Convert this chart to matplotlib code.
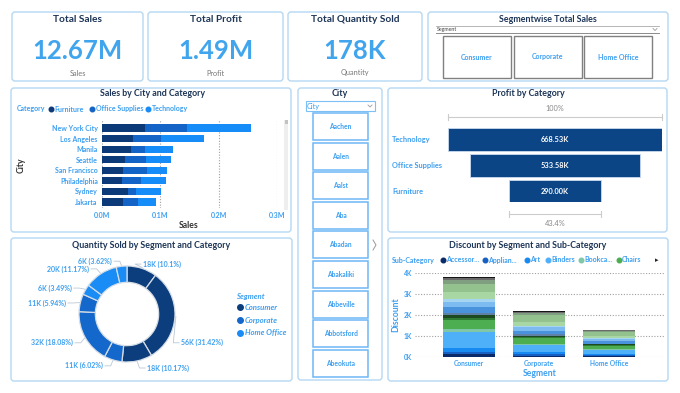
import numpy as np
import matplotlib.pyplot as plt
from matplotlib.patches import FancyBboxPatch, Rectangle
import matplotlib.transforms as mtransforms

plt.rcParams['font.family'] = ['Lato', 'DejaVu Sans']

# ---- data ----
kpi_titles = ['Total Sales', 'Total Profit', 'Total Quantity Sold']
kpi_values = ['12.67M', '1.49M', '178K']
kpi_subs = ['Sales', 'Profit', 'Quantity']

segments = ['Consumer', 'Corporate', 'Home Office']

cities = ['New York City', 'Los Angeles', 'Manila', 'Seattle', 'San Francisco',
          'Philadelphia', 'Sydney', 'Jakarta']
sales_furniture = [0.074, 0.053, 0.049, 0.040, 0.036, 0.035, 0.045, 0.036]
sales_office = [0.072, 0.048, 0.024, 0.036, 0.041, 0.031, 0.014, 0.025]
sales_tech = [0.109, 0.074, 0.048, 0.043, 0.035, 0.043, 0.042, 0.032]

slicer_cities = ['Aachen', 'Aalen', 'Aalst', 'Aba', 'Abadan', 'Abakaliki',
                 'Abbeville', 'Abbotsford', 'Abeokuta']

profit_cats = ['Technology', 'Office Supplies', 'Furniture']
profit_vals = [668.53, 533.58, 290.00]

qty_labels = ['18K', '56K', '18K', '11K', '32K', '11K', '6K', '20K', '6K']
qty_pcts = [10.10, 31.42, 10.17, 6.02, 18.08, 5.94, 3.49, 11.17, 3.62]
qty_segment = [0, 0, 0, 1, 1, 1, 2, 2, 2]

subcats = ['Accessories', 'Appliances', 'Art', 'Binders', 'Bookcases', 'Chairs',
           'Copiers', 'Envelopes', 'Fasteners', 'Furnishings', 'Labels',
           'Machines', 'Paper', 'Phones', 'Storage', 'Supplies', 'Tables']
disc_consumer = [0.12, 0.10, 0.22, 0.75, 0.12, 0.45, 0.10, 0.12, 0.10, 0.30,
                 0.25, 0.15, 0.30, 0.40, 0.20, 0.08, 0.04]
disc_corporate = [0.07, 0.06, 0.13, 0.30, 0.07, 0.26, 0.06, 0.07, 0.06, 0.18,
                  0.15, 0.09, 0.18, 0.31, 0.12, 0.05, 0.04]
disc_home = [0.04, 0.04, 0.08, 0.17, 0.04, 0.15, 0.04, 0.04, 0.04, 0.11,
             0.09, 0.05, 0.11, 0.17, 0.07, 0.03, 0.03]

# ---- styles ----
W, H = 680, 393
BORDER = '#b5d8f3'
NAVY = '#1d3557'
LBLUE = '#3d9ff0'
TITLE_FS = 6.4
SMALL_FS = 5.0
seg_colors = ['#0c3d7c', '#1468cc', '#1a8cf5']
cat_colors = ['#0c3a78', '#1464c8', '#168cf8']
sub_colors = ['#0a2a6a', '#1560c2', '#178af2', '#4fb0fa', '#7fc7a6', '#4cae50',
              '#2f7a34', '#1d4a20', '#5f81a6', '#4a92dc', '#7dbaf0', '#a6d5f2',
              '#a9d7a4', '#93c28f', '#7f9f80', '#6a6a6a', '#151515']

fig = plt.figure(figsize=(W / 100, H / 100), dpi=100)
bg = fig.add_axes([0, 0, 1, 1])
bg.set_xlim(0, W)
bg.set_ylim(H, 0)
bg.axis('off')


def px_axes(x0, y0, x1, y1):
    return fig.add_axes([x0 / W, 1 - y1 / H, (x1 - x0) / W, (y1 - y0) / H])


def panel(x0, y0, x1, y1):
    bg.add_patch(FancyBboxPatch((x0, y0), x1 - x0, y1 - y0,
                                boxstyle='round,pad=0,rounding_size=3',
                                fc='white', ec=BORDER, lw=1))


def chevron(x, y, s=2.5, color='#999999'):
    bg.plot([x - s, x, x + s], [y - s / 2, y + s / 2, y - s / 2], color=color, lw=0.6)


# ---- KPI cards ----
card_x = [(12, 143), (148, 283), (288, 422)]
for (x0, x1), t, v, s in zip(card_x, kpi_titles, kpi_values, kpi_subs):
    panel(x0, 12, x1, 81)
    xc = (x0 + x1) / 2
    bg.text(xc, 20, t, ha='center', va='center', fontsize=7.3, fontweight='bold', color=NAVY)
    bg.text(xc, 51, v, ha='center', va='center', fontsize=18.5, fontweight='bold', color='#41a5ee')
    bg.text(xc, 73, s, ha='center', va='center', fontsize=5.3, color='#777777')

# ---- Segment slicer ----
panel(428, 12, 668, 81)
bg.text(548, 19, 'Segmentwise Total Sales', ha='center', va='center', fontsize=TITLE_FS,
        fontweight='bold', color=NAVY)
bg.plot([436, 659], [26, 26], color='#aaaaaa', lw=0.6)
bg.plot([436, 659], [33, 33], color='#777777', lw=0.6)
bg.text(437, 29.5, 'Segment', ha='left', va='center', fontsize=3.8, color='#444444')
chevron(655, 29.5, 2)
seg_btn_x = [443, 514, 584]
for bx, name in zip(seg_btn_x, segments):
    bg.add_patch(Rectangle((bx, 36), 68, 42, fc='white', ec='#808080', lw=1))
    bg.text(bx + 34, 57, name, ha='center', va='center', fontsize=5,
            fontweight='bold', color=LBLUE)

# ---- Sales by City and Category ----
panel(11, 88, 291, 232)
bg.text(153, 94, 'Sales by City and Category', ha='center', va='center', fontsize=TITLE_FS,
        fontweight='bold', color=NAVY)
bg.text(17, 109, 'Category', ha='left', va='center', fontsize=SMALL_FS, fontweight='bold', color=LBLUE)
leg_x = [51, 92, 148]
for lx, name, c in zip(leg_x, ['Furniture', 'Office Supplies', 'Technology'], cat_colors):
    bg.plot(lx, 109, 'o', ms=3.3, color=c)
    bg.text(lx + 3.5, 109, name, ha='left', va='center', fontsize=SMALL_FS, fontweight='bold', color=LBLUE)
bg.add_patch(Rectangle((284, 120), 4, 90, fc='#eeeeee', ec='none'))
bg.add_patch(Rectangle((284.5, 120), 3, 4, fc='#c2c2c2', ec='none'))

ax1 = px_axes(102, 120, 277, 208)
y = np.arange(len(cities))
f = np.array(sales_furniture)
o = np.array(sales_office)
t = np.array(sales_tech)
ax1.barh(y, f, height=0.68, color=cat_colors[0], zorder=3)
ax1.barh(y, o, left=f, height=0.68, color=cat_colors[1], zorder=3)
ax1.barh(y, t, left=f + o, height=0.68, color=cat_colors[2], zorder=3)
ax1.set_xlim(0, 0.3)
ax1.set_ylim(len(cities) - 1 + 0.57, -0.76)
ax1.set_xticks([0, 0.1, 0.2, 0.3])
ax1.set_xticklabels(['0.0M', '0.1M', '0.2M', '0.3M'])
ax1.set_yticks(y)
ax1.set_yticklabels(cities)
ax1.tick_params(length=0, labelsize=5.0, labelcolor=LBLUE, pad=3)
for lab in ax1.get_xticklabels() + ax1.get_yticklabels():
    lab.set_fontweight('bold')
ax1.grid(axis='x', linestyle=(0, (1, 1.5)), color='#a0a0a0', lw=0.8, zorder=0)
for s in ax1.spines.values():
    s.set_visible(False)
ax1.set_facecolor('none')
bg.text(189, 226, 'Sales', ha='center', va='center', fontsize=6.2, fontweight='bold', color='#333333')
bg.text(21, 165, 'City', ha='center', va='center', rotation=90, fontsize=6.2,
        fontweight='bold', color='#333333')

# ---- City slicer ----
panel(298, 88, 382, 380)
bg.text(340, 94, 'City', ha='center', va='center', fontsize=TITLE_FS, fontweight='bold', color=NAVY)
bg.add_patch(Rectangle((306, 101), 69, 10, fc='white', ec='#7cc0f5', lw=0.8))
bg.text(307, 106, 'City', ha='left', va='center', fontsize=5.3, color=LBLUE)
chevron(370, 106, 2)
for i, name in enumerate(slicer_cities):
    by = 113 + i * 29.6
    bg.add_patch(Rectangle((313, by), 55, 27, fc='white', ec='#6db8f7', lw=1.1))
    bg.text(340.5, by + 13.5, name, ha='center', va='center', fontsize=4.8,
            fontweight='bold', color=LBLUE)
bg.plot([373, 376, 373], [240, 245, 250], color='#999999', lw=0.7)

# ---- Profit by Category (funnel) ----
panel(388, 88, 667, 232)
bg.text(528, 94, 'Profit by Category', ha='center', va='center', fontsize=TITLE_FS,
        fontweight='bold', color=NAVY)
ax2 = px_axes(448, 128, 662, 202)
pv = np.array(profit_vals)
half = pv.max() / 2
ax2.barh(np.arange(3), pv, left=-pv / 2, height=0.88, color='#0b4585',
         edgecolor='#c9daf0', lw=0.6)
ax2.set_xlim(-half, half)
ax2.set_ylim(2.427, -0.447)
ax2.axis('off')
for i, v in enumerate(pv):
    ax2.text(0, i, f'{v:.2f}K', ha='center', va='center', fontsize=5.3,
             fontweight='bold', color='white')
lab_tr = mtransforms.blended_transform_factory(bg.transData, ax2.transData)
for i, name in enumerate(profit_cats):
    ax2.text(392, i, name, transform=lab_tr, ha='left', va='center', fontsize=5.3,
             fontweight='bold', color=LBLUE)
top_y, bot_y = -0.874, 2.89
ax2.plot([-half, half], [top_y, top_y], color='#cccccc', lw=0.8, clip_on=False)
ax2.plot([-half, -half], [top_y - 0.12, top_y + 0.12], color='#cccccc', lw=0.8, clip_on=False)
ax2.plot([half, half], [top_y - 0.12, top_y + 0.12], color='#cccccc', lw=0.8, clip_on=False)
lo = pv[-1] / 2
ax2.plot([-lo, lo], [bot_y, bot_y], color='#cccccc', lw=0.8, clip_on=False)
ax2.plot([-lo, -lo], [bot_y - 0.12, bot_y + 0.12], color='#cccccc', lw=0.8, clip_on=False)
ax2.plot([lo, lo], [bot_y - 0.12, bot_y + 0.12], color='#cccccc', lw=0.8, clip_on=False)
ax2.text(0, -1.22, '100%', ha='center', va='center', fontsize=5.3, color='#888888')
ax2.text(0, 3.28, f'{pv[-1] / pv[0] * 100:.1f}%', ha='center', va='center',
         fontsize=5.3, color='#888888')

# ---- Quantity donut ----
panel(11, 238, 292, 381)
bg.text(151, 246, 'Quantity Sold by Segment and Category', ha='center', va='center',
        fontsize=TITLE_FS, fontweight='bold', color=NAVY)
ax3 = px_axes(52, 239, 202, 389)
wcols = [seg_colors[s] for s in qty_segment]
wedges, _ = ax3.pie(qty_pcts, colors=wcols, startangle=90, counterclock=False, radius=1,
                    wedgeprops=dict(width=0.34, edgecolor='#d5dde6', linewidth=0.9))
ax3.set_xlim(-1.5625, 1.5625)
ax3.set_ylim(-1.5625, 1.5625)
ax3.set_aspect('equal')
ax3.axis('off')
label_xy = [(0.33, 1.04), (1.125, -0.60), (0.42, -1.125), (-0.50, -1.08),
            (-1.125, -0.60), (-1.27, 0.23), (-1.15, 0.54), (-0.79, 0.94), (-0.31, 1.10)]
for w, lbl, p, (lx, ly) in zip(wedges, qty_labels, qty_pcts, label_xy):
    ang = np.deg2rad((w.theta1 + w.theta2) / 2)
    x0, y0 = 1.02 * np.cos(ang), 1.02 * np.sin(ang)
    sgn = 1 if lx > 0 else -1
    ax3.plot([x0, lx - sgn * 0.16, lx - sgn * 0.04], [y0, ly, ly],
             color='#b9c8d8', lw=0.6, clip_on=False)
    pct = f'{p:.2f}'.rstrip('0') if p == 10.10 else f'{p:.2f}'
    ax3.text(lx, ly, f'{lbl} ({pct}%)', ha='left' if sgn > 0 else 'right', va='center',
             fontsize=5.0, fontweight='bold', color=LBLUE, clip_on=False)
bg.text(236, 296, 'Segment', ha='left', va='center', fontsize=5.6, fontweight='bold',
        style='italic', color=LBLUE)
for i, (name, c) in enumerate(zip(segments, seg_colors)):
    yy = 307 + i * 13
    bg.plot(240, yy, 'o', ms=4, color=c)
    bg.text(245, yy, name, ha='left', va='center', fontsize=5.6, fontweight='bold',
            style='italic', color=LBLUE)

# ---- Discount stacked columns ----
panel(388, 238, 668, 381)
bg.text(528, 246, 'Discount by Segment and Sub-Category', ha='center', va='center',
        fontsize=TITLE_FS, fontweight='bold', color=NAVY)
bg.text(392, 260, 'Sub-Category', ha='left', va='center', fontsize=SMALL_FS, fontweight='bold', color=LBLUE)
sub_leg = ['Accessor...', 'Applian...', 'Art', 'Binders', 'Bookca...', 'Chairs']
sub_leg_x = [443, 485, 527, 548, 581, 619]
for lx, name, c in zip(sub_leg_x, sub_leg, sub_colors):
    bg.plot(lx, 260, 'o', ms=3.3, color=c)
    bg.text(lx + 3, 260, name, ha='left', va='center', fontsize=SMALL_FS, fontweight='bold', color=LBLUE)
bg.text(657, 260, '\u25b8', ha='center', va='center', fontsize=5, color='#222222',
        family=['DejaVu Sans'])

ax4 = px_axes(415, 273, 665, 357)
xs = np.arange(len(segments))
bottom = np.zeros(len(segments))
for name, c, a, b, h in zip(subcats, sub_colors, disc_consumer, disc_corporate, disc_home):
    vals = np.array([a, b, h])
    ax4.bar(xs, vals, bottom=bottom, width=0.74, color=c, lw=0, zorder=3)
    bottom += vals
ax4.set_xlim(-0.77, 2.8)
ax4.set_ylim(0, 4)
ax4.set_yticks([0, 1, 2, 3, 4])
ax4.set_yticklabels(['0K', '1K', '2K', '3K', '4K'])
ax4.set_xticks(xs)
ax4.set_xticklabels(segments)
ax4.tick_params(length=0, labelsize=4.8, labelcolor=LBLUE, pad=2)
for lab in ax4.get_xticklabels() + ax4.get_yticklabels():
    lab.set_fontweight('bold')
ax4.grid(axis='y', linestyle=(0, (1, 1.5)), color='#a0a0a0', lw=0.8, zorder=0)
for s in ax4.spines.values():
    s.set_visible(False)
ax4.set_facecolor('none')
bg.text(540, 373, 'Segment', ha='center', va='center', fontsize=6.2, fontweight='bold', color=LBLUE)
bg.text(396, 315, 'Discount', ha='center', va='center', rotation=90, fontsize=6.2,
        fontweight='bold', color=LBLUE)

fig.savefig('out.png', dpi=100, facecolor='white')
